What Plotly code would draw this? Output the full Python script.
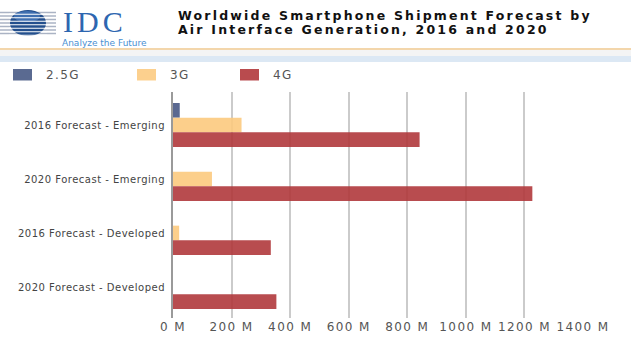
import plotly.graph_objects as go

# ---------------- data ----------------
categories = [
    "2016 Forecast - Emerging",
    "2020 Forecast - Emerging",
    "2016 Forecast - Developed",
    "2020 Forecast - Developed",
]
series_names = ["2.5G", "3G", "4G"]
values_25g = [23, 0, 0, 0]          # millions of units
values_3g = [234, 133, 21, 0]
values_4g = [842, 1227, 334, 353]
x_tick_values = [0, 200, 400, 600, 800, 1000, 1200, 1400]
x_tick_labels = ["0 M", "200 M", "400 M", "600 M", "800 M", "1000 M", "1200 M", "1400 M"]
title_lines = ["Worldwide Smartphone Shipment Forecast by",
               "Air Interface Generation, 2016 and 2020"]

# ---------------- styles ----------------
bar_colors = ["rgb(72,88,132)", "rgb(252,202,127)", "rgb(177,57,60)"]
legend_colors = ["#5a6a91", "#fcd08e", "#b94b4e"]
FONT = "DejaVu Sans"

W_PX, H_PX = 631, 342
L, R, T, B = 173, 583, 92, 318


def px(xp):
    return (xp - L) / (R - L)


def py(yp):
    return (B - yp) / (B - T)


def spaced(text, sp):
    return f'<span style="letter-spacing:{sp}px">{text}</span>'


fig = go.Figure()
for name, vals, col in zip(series_names, [values_25g, values_3g, values_4g], bar_colors):
    fig.add_trace(go.Bar(
        y=categories, x=vals, name=name, orientation="h",
        marker=dict(color=col, line=dict(width=0)), opacity=0.9,
        showlegend=False,
    ))

shapes = []
annotations = []

# header separator bands
shapes.append(dict(type="rect", xref="paper", yref="paper", x0=px(0), x1=px(W_PX),
                   y0=py(56), y1=py(50), fillcolor="#f4f4f4", line_width=0, layer="below"))
shapes.append(dict(type="rect", xref="paper", yref="paper", x0=px(0), x1=px(W_PX),
                   y0=py(62), y1=py(56), fillcolor="#dce8f4", line_width=0, layer="below"))
shapes.append(dict(type="line", xref="paper", yref="paper", x0=px(0), x1=px(W_PX),
                   y0=py(49), y1=py(49), line=dict(color="#efc98f", width=1.5)))

# logo: striped globe
stripe_ys = [12.5, 16, 19.5, 23, 26.5, 30, 33.5]
for sy in stripe_ys:
    shapes.append(dict(type="line", xref="paper", yref="paper", x0=px(0), x1=px(56),
                       y0=py(sy), y1=py(sy), line=dict(color="#aab3c4", width=1.3)))
shapes.append(dict(type="circle", xref="paper", yref="paper", x0=px(10), x1=px(46),
                   y0=py(36), y1=py(10), fillcolor="#234f8d", line_width=0))
shapes.append(dict(type="circle", xref="paper", yref="paper", x0=px(14), x1=px(40),
                   y0=py(22), y1=py(11), fillcolor="#3f6fb0", line_width=0))
for sy in stripe_ys:
    shapes.append(dict(type="line", xref="paper", yref="paper", x0=px(9), x1=px(47),
                       y0=py(sy + 1.7), y1=py(sy + 1.7), line=dict(color="white", width=1.1)))

annotations.append(dict(xref="paper", yref="paper", x=px(61), y=py(21), xanchor="left",
                        yanchor="middle", showarrow=False,
                        text=spaced("IDC", 4),
                        font=dict(family="Liberation Serif", size=30, color="#2d66b0")))
annotations.append(dict(xref="paper", yref="paper", x=px(60), y=py(43), xanchor="left",
                        yanchor="middle", showarrow=False,
                        text="Analyze the Future",
                        font=dict(family=FONT, size=9, color="#4a8fd2")))

# title
for i, line in enumerate(title_lines):
    annotations.append(dict(xref="paper", yref="paper", x=px(176), y=py(15 + 14.5 * i),
                            xanchor="left", yanchor="middle", showarrow=False,
                            text="<b>" + spaced(line, 2.2) + "</b>",
                            font=dict(family=FONT, size=12.5, color="#111111")))

# legend
leg_sq_x = [13, 137, 240]
for name, col, lx in zip(series_names, legend_colors, leg_sq_x):
    shapes.append(dict(type="rect", xref="paper", yref="paper", x0=px(lx), x1=px(lx + 19),
                       y0=py(80.5), y1=py(69), fillcolor=col, line_width=0))
    annotations.append(dict(xref="paper", yref="paper", x=px(lx + 31), y=py(75),
                            xanchor="left", yanchor="middle", showarrow=False,
                            text=spaced(name, 1.4),
                            font=dict(family=FONT, size=12, color="#555555")))

fig.update_layout(
    width=W_PX, height=H_PX,
    margin=dict(l=L, r=W_PX - R, t=T, b=H_PX - B, autoexpand=False),
    paper_bgcolor="white", plot_bgcolor="white",
    barmode="group", bargap=0.185, bargroupgap=0,
    shapes=shapes, annotations=annotations,
    showlegend=False,
    xaxis=dict(range=[0, 1400], tickmode="array", tickvals=x_tick_values,
               ticktext=[spaced(t, 1.4) for t in x_tick_labels],
               showgrid=True, gridcolor="#cbcbcb", gridwidth=2, zeroline=False,
               showline=False, ticks="",
               tickfont=dict(family=FONT, size=12, color="#555555")),
    yaxis=dict(type="category", categoryorder="array", categoryarray=categories,
               range=[3.574, -0.611], tickmode="array", tickvals=categories,
               ticktext=[spaced(c, 0.5) for c in categories],
               showgrid=False, zeroline=False, showline=True, linecolor="#9a9a9a",
               linewidth=2, ticks="", ticklabelstandoff=4,
               tickfont=dict(family=FONT, size=10, color="#444444")),
)

fig.write_html("out.html")
